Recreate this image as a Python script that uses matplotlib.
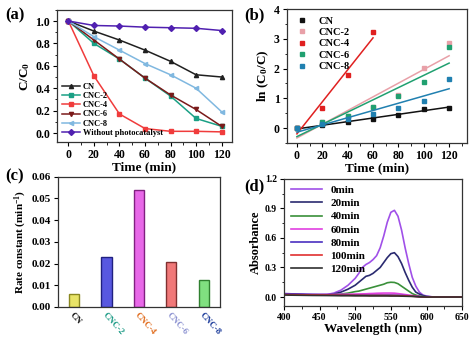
import numpy as np
import matplotlib
matplotlib.use("Agg")
import matplotlib.pyplot as plt
from matplotlib.ticker import MultipleLocator

plt.rcParams['font.family'] = ['Liberation Serif', 'DejaVu Serif']
plt.rcParams['font.weight'] = 'bold'
plt.rcParams['axes.labelweight'] = 'bold'
plt.rcParams['mathtext.fontset'] = 'custom'
plt.rcParams['mathtext.rm'] = 'Liberation Serif:bold'
plt.rcParams['mathtext.it'] = 'Liberation Serif:bold'
plt.rcParams['mathtext.bf'] = 'Liberation Serif:bold'

# (a) degradation curves
time = [0, 20, 40, 60, 80, 100, 120]
c_cn = [1.0, 0.91, 0.83, 0.74, 0.64, 0.52, 0.50]
c_cnc2 = [1.0, 0.80, 0.66, 0.49, 0.33, 0.13, 0.06]
c_cnc4 = [1.0, 0.51, 0.17, 0.04, 0.015, 0.015, 0.01]
c_cnc6 = [1.0, 0.83, 0.66, 0.49, 0.34, 0.21, 0.06]
c_cnc8 = [1.0, 0.86, 0.74, 0.62, 0.52, 0.40, 0.19]
c_blank = [1.0, 0.96, 0.955, 0.945, 0.94, 0.935, 0.915]

# (b) kinetics
ln_cn = [0.0, 0.10, 0.19, 0.30, 0.45, 0.65, 0.69]
ln_cnc2 = [0.0, 0.22, 0.42, 0.71, 1.11, 2.02, 2.87]
ln_cnc4 = [0.0, 0.68, 1.78, 3.22]
ln_cnc6 = [0.0, 0.19, 0.41, 0.71, 1.08, 1.54, 2.72]
ln_cnc8 = [0.0, 0.15, 0.30, 0.48, 0.66, 0.92, 1.64]

# (c) rate constants
samples = ['CN', 'CNC-2', 'CNC-4', 'CNC-6', 'CNC-8']
rate_k = [0.0061, 0.0229, 0.0538, 0.0207, 0.0122]

# (d) spectra
wl = [400, 420, 440, 460, 470, 480, 490, 500, 505, 510, 515, 520, 525, 530, 535,
      540, 545, 550, 555, 560, 565, 570, 575, 580, 585, 590, 595, 600, 610, 630, 650]
abs_0 = [0.03, 0.025, 0.02, 0.025, 0.04, 0.07, 0.12, 0.19, 0.24, 0.30, 0.33, 0.35, 0.38, 0.42, 0.50,
         0.62, 0.76, 0.86, 0.88, 0.82, 0.68, 0.50, 0.34, 0.20, 0.11, 0.05, 0.02, 0.01, 0.0, 0.0, 0.0]
abs_20 = [0.03, 0.025, 0.02, 0.02, 0.03, 0.05, 0.08, 0.12, 0.15, 0.18, 0.21, 0.22, 0.24, 0.27, 0.30,
          0.35, 0.40, 0.44, 0.45, 0.41, 0.34, 0.25, 0.17, 0.10, 0.05, 0.03, 0.015, 0.005, 0.0, 0.0, 0.0]
abs_40 = [0.03, 0.025, 0.02, 0.02, 0.025, 0.03, 0.04, 0.055, 0.06, 0.07, 0.08, 0.09, 0.10, 0.11, 0.12,
          0.13, 0.145, 0.15, 0.148, 0.135, 0.11, 0.085, 0.06, 0.035, 0.02, 0.01, 0.005, 0.0, 0.0, 0.0, 0.0]
abs_60 = [0.03, 0.028, 0.026, 0.026, 0.027, 0.028, 0.029, 0.03, 0.031, 0.032, 0.033, 0.035, 0.036, 0.038, 0.039,
          0.04, 0.04, 0.04, 0.039, 0.035, 0.03, 0.025, 0.02, 0.015, 0.01, 0.005, 0.003, 0.0, 0.0, 0.0, 0.0]
abs_80 = [0.035, 0.03, 0.027, 0.025, 0.024, 0.023, 0.022, 0.021, 0.021, 0.02, 0.02, 0.02, 0.02, 0.02, 0.02,
          0.02, 0.02, 0.02, 0.019, 0.018, 0.016, 0.014, 0.012, 0.01, 0.007, 0.004, 0.002, 0.0, 0.0, 0.0, 0.0]
abs_100 = [0.025, 0.023, 0.021, 0.02, 0.019, 0.018, 0.018, 0.017, 0.017, 0.017, 0.016, 0.016, 0.016, 0.016, 0.016,
           0.016, 0.015, 0.015, 0.015, 0.014, 0.013, 0.012, 0.01, 0.008, 0.006, 0.003, 0.001, 0.0, 0.0, 0.0, 0.0]
abs_120 = [0.02, 0.018, 0.016, 0.015, 0.014, 0.013, 0.013, 0.012, 0.012, 0.012, 0.012, 0.011, 0.011, 0.011, 0.011,
           0.011, 0.011, 0.01, 0.01, 0.01, 0.009, 0.008, 0.007, 0.006, 0.004, 0.002, 0.001, 0.0, 0.0, 0.0, 0.0]

fig = plt.figure(figsize=(4.74, 3.38), dpi=100)
ax_a = fig.add_axes([0.120, 0.580, 0.369, 0.391])
ax_b = fig.add_axes([0.605, 0.577, 0.380, 0.396])
ax_c = fig.add_axes([0.122, 0.092, 0.342, 0.385])
ax_d = fig.add_axes([0.599, 0.095, 0.376, 0.376])

for ax in (ax_a, ax_b, ax_c, ax_d):
    ax.tick_params(labelsize=8.5, width=0.8, length=3, pad=2)
    ax.tick_params(which='minor', width=0.6, length=1.8)
    for sp in ax.spines.values():
        sp.set_linewidth(0.9)
        sp.set_color('#333333')

# ---- (a)
series_a = [
    (c_cn, 'CN', '#202020', '^'),
    (c_cnc2, 'CNC-2', '#1aa085', 's'),
    (c_cnc4, 'CNC-4', '#f03c3c', 's'),
    (c_cnc6, 'CNC-6', '#7a1a1a', 'v'),
    (c_cnc8, 'CNC-8', '#80b8e0', '<'),
    (c_blank, 'Without photocatalyst', '#5020b0', 'D'),
]
for vals, lab, col, mk in series_a:
    ax_a.plot(time, vals, color=col, marker=mk, markersize=3, lw=1.1, label=lab)
ax_a.set_xlim(-9, 128)
ax_a.set_ylim(-0.08, 1.1)
ax_a.set_xticks([0, 20, 40, 60, 80, 100, 120])
ax_a.xaxis.set_minor_locator(MultipleLocator(10))
ax_a.set_yticks([0.0, 0.2, 0.4, 0.6, 0.8, 1.0])
ax_a.yaxis.set_minor_locator(MultipleLocator(0.1))
ax_a.set_yticklabels(['0.0', '0.2', '0.4', '0.6', '0.8', '1.0'])
ax_a.set_xlabel('Time (min)', fontsize=9.5, labelpad=0)
ax_a.set_ylabel('C/C$_0$', fontsize=9.5, labelpad=2)
ax_a.legend(loc='lower left', fontsize=6, frameon=False, handlelength=2.2,
            handletextpad=0.3, labelspacing=0.15, borderaxespad=0.2)

# ---- (b)
series_b = [
    (time, ln_cn, 'CN', '#111111'),
    (time, ln_cnc2, 'CNC-2', '#e8a0a8'),
    (time[:4], ln_cnc4, 'CNC-4', '#e02020'),
    (time, ln_cnc6, 'CNC-6', '#20a070'),
    (time, ln_cnc8, 'CNC-8', '#2080b0'),
]
for t, vals, lab, col in series_b:
    k, b = np.polyfit(t, vals, 1)
    tt = np.array([t[0], t[-1]])
    ax_b.plot(tt, k * tt + b, color=col, lw=1.1)
    ax_b.plot(t, vals, 's', color=col, markersize=3, label=lab)
ax_b.set_xlim(-8, 134)
ax_b.set_ylim(-0.5, 4)
ax_b.set_xticks([0, 20, 40, 60, 80, 100, 120])
ax_b.xaxis.set_minor_locator(MultipleLocator(10))
ax_b.set_yticks([0, 1, 2, 3, 4])
ax_b.yaxis.set_minor_locator(MultipleLocator(0.5))
ax_b.set_xlabel('Time (min)', fontsize=9.5, labelpad=0)
ax_b.set_ylabel('ln (C$_0$/C)', fontsize=9.5, labelpad=2)
ax_b.legend(loc='upper left', fontsize=7.5, frameon=False, handlelength=1.5,
            handletextpad=0.8, labelspacing=0.2, borderaxespad=0.3)

# ---- (c)
bar_cols = ['#e8e468', '#5858e0', '#e868e8', '#f07878', '#80e080']
edge_cols = ['#8a8820', '#202080', '#802080', '#803030', '#308030']
lab_cols = ['#111111', '#1a9a85', '#e06a1a', '#8a90d0', '#1a3a9a']
xpos = np.arange(len(samples))
ax_c.bar(xpos, rate_k, width=0.32, color=bar_cols, edgecolor=edge_cols, linewidth=1.0)
ax_c.set_xlim(-0.5, 4.5)
ax_c.set_ylim(0, 0.06)
ax_c.set_yticks([0.00, 0.01, 0.02, 0.03, 0.04, 0.05, 0.06])
ax_c.set_yticklabels(['0.00', '0.01', '0.02', '0.03', '0.04', '0.05', '0.06'])
ax_c.tick_params(axis='y', labelsize=8)
ax_c.set_xticks(xpos)
ax_c.set_xticklabels(samples, rotation=-48, ha='left', va='top', rotation_mode='anchor')
for tl, c in zip(ax_c.get_xticklabels(), lab_cols):
    tl.set_color(c)
    tl.set_fontsize(6.5)
ax_c.tick_params(axis='x', length=0, pad=3)
ax_c.set_ylabel('Rate constant (min$^{-1}$)', fontsize=8, labelpad=2)

# ---- (d)
spectra = [
    (abs_0, '0min', '#a050e8'),
    (abs_20, '20min', '#2a2a70'),
    (abs_40, '40min', '#3a903a'),
    (abs_60, '60min', '#e040e0'),
    (abs_80, '80min', '#4a30c0'),
    (abs_100, '100min', '#e03030'),
    (abs_120, '120min', '#303030'),
]
for vals, lab, col in spectra:
    ax_d.plot(wl, vals, color=col, lw=1.2, label=lab)
ax_d.set_xlim(400, 650)
ax_d.set_ylim(-0.09, 1.2)
ax_d.set_xticks([400, 450, 500, 550, 600, 650])
ax_d.xaxis.set_minor_locator(MultipleLocator(25))
ax_d.set_yticks([0.0, 0.3, 0.6, 0.9, 1.2])
ax_d.yaxis.set_minor_locator(MultipleLocator(0.15))
ax_d.set_yticklabels(['0.0', '0.3', '0.6', '0.9', '1.2'])
ax_d.tick_params(labelsize=7)
ax_d.set_xlabel('Wavelength (nm)', fontsize=9.5, labelpad=1)
ax_d.set_ylabel('Absorbance', fontsize=9, labelpad=2)
ax_d.legend(loc='upper left', fontsize=8, frameon=False, handlelength=2.8,
            handletextpad=0.8, labelspacing=0.3, borderaxespad=0.2)

# panel letters
fig.text(0.012, 0.955, '(a)', fontsize=12, fontweight='bold', va='center')
fig.text(0.515, 0.955, '(b)', fontsize=12, fontweight='bold', va='center')
fig.text(0.012, 0.478, '(c)', fontsize=12, fontweight='bold', va='center')
fig.text(0.515, 0.45, '(d)', fontsize=12, fontweight='bold', va='center')

fig.savefig('out.png', dpi=100)
